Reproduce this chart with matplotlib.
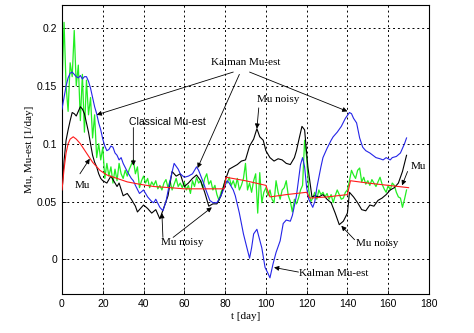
import numpy as np
import matplotlib
matplotlib.use("Agg")
import matplotlib.pyplot as plt

# ---------------- data ----------------
# Classical Mu-est (green), one value per day
t_classical = list(range(0, 170))
mu_classical = [
    0.150, 0.205, 0.150, 0.128, 0.170, 0.158, 0.198, 0.150, 0.168, 0.120,
    0.160, 0.110, 0.155, 0.125, 0.140, 0.105, 0.125, 0.088, 0.100, 0.086,
    0.097, 0.070, 0.083, 0.072, 0.080, 0.066, 0.078, 0.068, 0.083, 0.074,
    0.070, 0.077, 0.072, 0.078, 0.082, 0.086, 0.074, 0.080, 0.062, 0.068,
    0.072, 0.066, 0.070, 0.062, 0.067, 0.064, 0.068, 0.061, 0.064, 0.060,
    0.066, 0.069, 0.062, 0.068, 0.060, 0.065, 0.070, 0.063, 0.066, 0.062,
    0.067, 0.060, 0.064, 0.057, 0.068, 0.063, 0.071, 0.066, 0.068, 0.062,
    0.070, 0.074, 0.065, 0.068, 0.060, 0.064, 0.056, 0.051, 0.058, 0.062,
    0.068, 0.066, 0.071, 0.064, 0.068, 0.062, 0.070, 0.060, 0.064, 0.070,
    0.083, 0.060, 0.066, 0.058, 0.068, 0.074, 0.040, 0.075, 0.049, 0.058,
    0.062, 0.055, 0.060, 0.052, 0.049, 0.068, 0.058, 0.052, 0.060, 0.062,
    0.068, 0.055, 0.050, 0.041, 0.052, 0.048, 0.053, 0.060, 0.064, 0.103,
    0.088, 0.060, 0.050, 0.053, 0.058, 0.052, 0.060, 0.056, 0.058, 0.054,
    0.057, 0.052, 0.056, 0.049, 0.055, 0.060, 0.056, 0.052, 0.053, 0.058,
    0.060, 0.068, 0.077, 0.073, 0.070, 0.077, 0.079, 0.067, 0.071, 0.065,
    0.068, 0.064, 0.069, 0.066, 0.063, 0.067, 0.071, 0.065, 0.061, 0.058,
    0.064, 0.060, 0.066, 0.064, 0.058, 0.054, 0.053, 0.045, 0.052, 0.060,
]

# Mu noisy (black)
t_noisy = [0, 1, 2, 3, 4, 5, 6, 7, 8, 9, 10, 11, 12, 13, 14, 15, 16, 17, 18, 19,
           20, 22, 24, 25, 27, 28, 30, 32, 34, 36, 37, 38, 40, 42, 44, 46, 48, 50,
           52, 54, 56, 58, 60, 62, 64, 66, 68, 70, 72, 74, 76, 78, 80, 82, 84, 86,
           88, 90, 92, 94, 95.6, 97, 98.7, 100, 102, 104, 106, 108, 110, 112, 114,
           115, 116, 117.7, 119, 120.6, 122.6, 124, 126, 128, 130, 132, 134, 136,
           138, 140, 141, 143, 145, 147, 149, 151, 153, 155, 157, 159, 161, 163,
           165, 167, 169]
mu_noisy = [0.058, 0.085, 0.103, 0.112, 0.120, 0.127, 0.126, 0.124, 0.128, 0.132,
            0.130, 0.126, 0.118, 0.110, 0.100, 0.090, 0.084, 0.080, 0.074, 0.070,
            0.068, 0.066, 0.072, 0.069, 0.063, 0.066, 0.055, 0.057, 0.052, 0.046,
            0.041, 0.043, 0.047, 0.044, 0.040, 0.043, 0.035, 0.045, 0.055, 0.076,
            0.072, 0.074, 0.063, 0.066, 0.070, 0.073, 0.068, 0.058, 0.046, 0.048,
            0.048, 0.055, 0.068, 0.078, 0.080, 0.082, 0.085, 0.086, 0.098, 0.104,
            0.113, 0.106, 0.103, 0.094, 0.088, 0.085, 0.087, 0.086, 0.083, 0.082,
            0.088, 0.094, 0.102, 0.115, 0.112, 0.080, 0.054, 0.055, 0.054, 0.056,
            0.052, 0.049, 0.040, 0.030, 0.033, 0.040, 0.058, 0.054, 0.049, 0.043,
            0.042, 0.047, 0.046, 0.051, 0.053, 0.056, 0.060, 0.062, 0.066, 0.076,
            0.090]

# Kalman Mu-est (blue)
t_kalman = [0, 1, 2, 3, 4, 5, 6, 7, 8, 9, 10, 11, 12, 13, 14, 15, 16, 17, 18, 19,
            20, 21, 22, 23, 24, 25, 26, 27, 28, 29, 30, 32, 34, 35, 36, 38, 40, 42,
            44, 45, 46, 48, 49.5, 51, 53, 55, 57, 58, 60, 62, 64, 66, 67, 69, 71,
            72.5, 74, 76, 78, 80, 81, 82, 84, 85, 87, 89, 90.7, 92, 93, 94, 95.6,
            96.5, 98, 99.6, 101, 102, 103.5, 105, 107, 108.5, 110, 112, 113, 115,
            117, 118, 119, 120, 121, 123, 124, 125, 127, 128, 130, 132, 133, 135,
            137, 139, 141, 142, 143, 144.5, 146, 147.5, 149, 151, 152.5, 154, 156,
            157.5, 159, 161, 162, 164, 166, 167, 168, 169]
mu_kalman = [0.130, 0.140, 0.150, 0.157, 0.161, 0.162, 0.160, 0.158, 0.157, 0.159,
             0.156, 0.158, 0.158, 0.154, 0.148, 0.140, 0.132, 0.126, 0.118, 0.112,
             0.104, 0.098, 0.094, 0.095, 0.098, 0.097, 0.092, 0.090, 0.086, 0.088,
             0.083, 0.076, 0.070, 0.068, 0.064, 0.057, 0.060, 0.054, 0.050, 0.049,
             0.052, 0.045, 0.042, 0.050, 0.068, 0.083, 0.078, 0.074, 0.071, 0.072,
             0.074, 0.080, 0.077, 0.068, 0.058, 0.051, 0.049, 0.049, 0.055, 0.064,
             0.068, 0.066, 0.060, 0.055, 0.040, 0.022, 0.010, 0.001, 0.010, 0.022,
             0.026, 0.020, 0.010, -0.007, -0.012, -0.016, -0.004, 0.006, 0.016,
             0.031, 0.034, 0.033, 0.038, 0.055, 0.082, 0.088, 0.080, 0.062, 0.052,
             0.045, 0.050, 0.062, 0.080, 0.088, 0.096, 0.103, 0.106, 0.110, 0.115,
             0.122, 0.127, 0.126, 0.122, 0.118, 0.105, 0.097, 0.094, 0.092, 0.090,
             0.088, 0.087, 0.086, 0.088, 0.086, 0.088, 0.089, 0.092, 0.096, 0.100,
             0.105]

# Mu (red)
t_mu = [0, 1, 2, 3, 4, 5.5, 7, 9, 12, 15, 18.6, 22, 27, 32, 38, 45, 53, 60, 70,
        79.5, 80.5, 90, 100, 102, 110, 120, 121.5, 130, 140, 141.5, 150, 160, 170]
mu_true = [0.060, 0.078, 0.092, 0.100, 0.104, 0.106, 0.104, 0.100, 0.092, 0.084,
           0.077, 0.073, 0.070, 0.067, 0.065, 0.063, 0.062, 0.061, 0.061,
           0.061, 0.071, 0.068, 0.064, 0.054, 0.056, 0.058, 0.053, 0.054, 0.056,
           0.068, 0.066, 0.064, 0.062]

x_ticks = [0, 20, 40, 60, 80, 100, 120, 140, 160, 180]
y_ticks = [0, 0.05, 0.1, 0.15, 0.2]
y_tick_labels = ["0", "0.05", "0.1", "0.15", "0.2"]

# ---------------- figure ----------------
fig = plt.figure(figsize=(4.74, 3.33), dpi=100)
ax = fig.add_axes([0.1308, 0.117, 0.7742, 0.868])

ax.plot(t_classical, mu_classical, color="#22ee22", lw=0.9, zorder=2)
ax.plot(t_noisy, mu_noisy, color="black", lw=0.8, zorder=3)
ax.plot(t_kalman, mu_kalman, color="#2424e8", lw=0.8, zorder=3)
ax.plot(t_mu, mu_true, color="#ff1a1a", lw=0.8, zorder=4)

ax.set_xlim(0, 180)
ax.set_ylim(-0.03, 0.22)
ax.set_xticks(x_ticks)
ax.set_yticks(y_ticks)
ax.set_yticklabels(y_tick_labels)
ax.tick_params(direction="in", length=3, width=0.6, labelsize=7.5,
               colors="black")
for lab in ax.get_xticklabels() + ax.get_yticklabels():
    lab.set_family("Liberation Sans")
ax.grid(True, color="black", linestyle=(0, (2, 3)), linewidth=0.7)
for s in ax.spines.values():
    s.set_linewidth(0.8)

ax.set_xlabel("t [day]", family="Liberation Serif", fontsize=8, labelpad=2)
ax.set_ylabel("Mu, Mu-est [1/day]", family="Liberation Serif", fontsize=8,
              labelpad=2)

serif = dict(family="Liberation Serif", fontsize=8)
sans = dict(family="Liberation Sans", fontsize=7.5)
arrow = dict(arrowstyle="-|>", lw=0.6, color="black", mutation_scale=7,
             shrinkA=0, shrinkB=0)


def note(text, xy, xytext, fontd):
    ax.annotate(text, xy=xy, xytext=xytext, ha="center", va="center",
                arrowprops=arrow, zorder=6, **fontd)


def arrow_only(xy, xyfrom):
    ax.annotate("", xy=xy, xytext=xyfrom, arrowprops=arrow, zorder=6)


# Kalman Mu-est (top) with three arrows
ax.text(90, 0.170, "Kalman Mu-est", ha="center", va="center", zorder=6, **serif)
arrow_only((17, 0.125), (84, 0.162))
arrow_only((66.5, 0.079), (87, 0.160))
arrow_only((140, 0.128), (92, 0.162))

# Classical Mu-est
ax.text(51.5, 0.119, "Classical Mu-est", ha="center", va="center", zorder=6, **sans)
arrow_only((35, 0.081), (35, 0.114))

# Mu noisy (top)
ax.text(106, 0.138, "Mu noisy", ha="center", va="center", zorder=6, **serif)
arrow_only((95.6, 0.113), (96.5, 0.131))

# Mu (left)
ax.text(9.8, 0.064, "Mu", ha="center", va="center", zorder=6, **serif)
arrow_only((13.6, 0.087), (8.8, 0.074))

# Mu noisy (bottom) with two arrows
ax.text(59, 0.0147, "Mu noisy", ha="center", va="center", zorder=6, **serif)
arrow_only((49, 0.040), (49.5, 0.019))
arrow_only((73.5, 0.045), (54.5, 0.019))

# Kalman Mu-est (bottom)
ax.text(133.5, -0.012, "Kalman Mu-est", ha="center", va="center", zorder=6, **serif)
arrow_only((104, -0.007), (116, -0.011))

# Mu noisy (bottom right)
ax.text(154.5, 0.014, "Mu noisy", ha="center", va="center", zorder=6, **serif)
arrow_only((137, 0.029), (143.5, 0.017))

# Mu (right)
ax.text(171, 0.080, "Mu", ha="left", va="center", zorder=6, **serif)
arrow_only((166.8, 0.064), (169.5, 0.076))

fig.savefig("out.png", dpi=100)
